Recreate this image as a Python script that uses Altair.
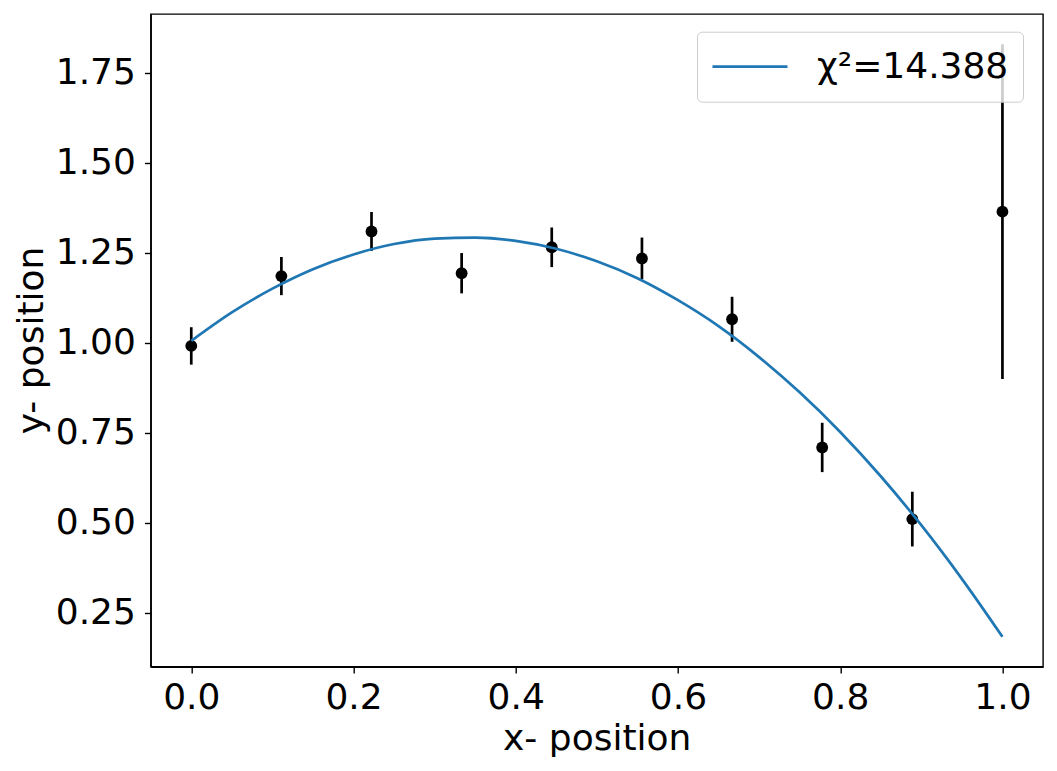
import altair as alt
import pandas as pd

# measured data points
x_pts = [0.0, 0.1111, 0.2222, 0.3333, 0.4444, 0.5556, 0.6667, 0.7778, 0.8889, 1.0]
y_pts = [0.991, 1.185, 1.309, 1.193, 1.265, 1.234, 1.065, 0.709, 0.510, 1.364]
y_err = [0.052, 0.053, 0.054, 0.056, 0.055, 0.058, 0.0625, 0.0685, 0.076, 0.465]

# fitted curve
x_fit = [0.0, 0.05, 0.10, 0.15, 0.20, 0.25, 0.30, 0.35, 0.40, 0.45, 0.50,
         0.55, 0.60, 0.65, 0.70, 0.75, 0.80, 0.85, 0.90, 0.95, 1.0]
y_fit = [1.005, 1.084, 1.150, 1.204, 1.245, 1.274, 1.289, 1.292, 1.283, 1.261, 1.226,
         1.179, 1.118, 1.046, 0.960, 0.862, 0.752, 0.629, 0.493, 0.344, 0.183]

legend_label = "χ²=14.388"

x_ticks = [0.0, 0.2, 0.4, 0.6, 0.8, 1.0]
y_ticks = [0.25, 0.50, 0.75, 1.00, 1.25, 1.50, 1.75]

pts = pd.DataFrame({"x": x_pts, "y": y_pts, "err": y_err})
pts["lo"] = pts["y"] - pts["err"]
pts["hi"] = pts["y"] + pts["err"]
fit = pd.DataFrame({"x": x_fit, "y": y_fit, "label": legend_label})

FONT = "DejaVu Sans"
xscale = alt.Scale(domain=[-0.05, 1.05], nice=False, zero=False)
yscale = alt.Scale(domain=[0.1, 1.913], nice=False, zero=False)

xaxis = alt.Axis(title="x- position", values=x_ticks, format=".1f", grid=False,
                 titleX=446, titleY=83.3, titleBaseline="alphabetic")
yaxis = alt.Axis(title="y- position", values=y_ticks, format=".2f", grid=False,
                 titleX=-108, titleY=326, titleBaseline="alphabetic")

err = alt.Chart(pts).mark_rule(color="black", strokeWidth=2.7).encode(
    x=alt.X("x:Q", scale=xscale, axis=xaxis),
    y=alt.Y("lo:Q", scale=yscale, axis=yaxis),
    y2="hi:Q",
)
dots = alt.Chart(pts).mark_circle(color="black", size=140, opacity=1).encode(
    x=alt.X("x:Q", scale=xscale),
    y=alt.Y("y:Q", scale=yscale),
)
line = alt.Chart(fit).mark_line(strokeWidth=2.7, interpolate="monotone").encode(
    x=alt.X("x:Q", scale=xscale),
    y=alt.Y("y:Q", scale=yscale),
    color=alt.Color("label:N",
                    scale=alt.Scale(domain=[legend_label], range=["#1f77b4"]),
                    legend=alt.Legend(title=None, orient="none", legendX=546.3, legendY=17.7,
                                      symbolType="stroke", symbolSize=5625,
                                      symbolStrokeWidth=2.7, labelOffset=28,
                                      labelFontSize=36, labelFont=FONT, labelColor="black",
                                      labelLimit=1000, zindex=5,
                                      padding=14, clipHeight=42,
                                      fillColor="rgba(255,255,255,0.8)",
                                      strokeColor="#cccccc", cornerRadius=5)),
)

chart = alt.layer(err, dots, line).properties(
    width=892.3, height=652.7,
    autosize=alt.AutoSizeParams(type="none"),
    padding={"left": 142.7, "top": 6, "right": 4, "bottom": 96},
).configure_view(stroke="black", strokeWidth=1.4).configure_axis(
    domainColor="black", domainWidth=1.4, tickColor="black", tickWidth=1.4, tickSize=6.3,
    labelFont=FONT, labelFontSize=36, labelColor="black", labelPadding=8,
    titleFont=FONT, titleFontSize=36, titleColor="black", titleFontWeight="normal",
).configure_axisY(labelPadding=9)

chart.save("out.html", embed_options={"renderer": "svg", "actions": False})
